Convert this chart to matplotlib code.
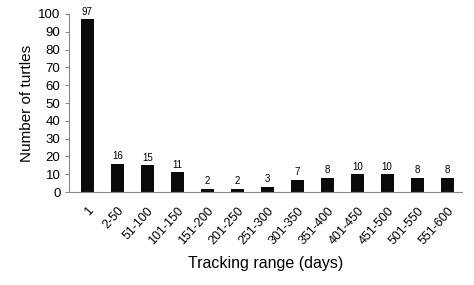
import matplotlib.pyplot as plt
import numpy as np

plt.rcParams['font.family'] = ['Liberation Sans', 'DejaVu Sans']

ranges = ['1', '2-50', '51-100', '101-150', '151-200', '201-250', '251-300',
          '301-350', '351-400', '401-450', '451-500', '501-550', '551-600']
turtles = [97, 16, 15, 11, 2, 2, 3, 7, 8, 10, 10, 8, 8]

fig = plt.figure(figsize=(4.74, 2.85), dpi=100)
ax = fig.add_axes([0.145, 0.326, 0.83, 0.625])

x = np.arange(len(ranges))
ax.bar(x, turtles, width=0.44, color='#0a0a0a')
for xi, v in zip(x, turtles):
    ax.text(xi, v + 1.5, str(v), ha='center', va='bottom', fontsize=7)

ax.set_xlim(-0.62, 12.5)
ax.set_ylim(0, 100)
ax.set_yticks(range(0, 101, 10))
ax.set_xticks(x)
ax.set_xticklabels(ranges, rotation=48, ha='right', rotation_mode='anchor', fontsize=9)
ax.tick_params(axis='y', labelsize=9.5, length=3, color='#888888', direction='out', pad=3)
ax.tick_params(axis='x', length=0, pad=9)
for s in ['top', 'right']:
    ax.spines[s].set_visible(False)
for s in ['left', 'bottom']:
    ax.spines[s].set_color('#888888')
ax.set_ylabel('Number of turtles', fontsize=11, labelpad=3)
ax.set_xlabel('Tracking range (days)', fontsize=11.5, labelpad=7)

fig.savefig('out.png', dpi=100)
